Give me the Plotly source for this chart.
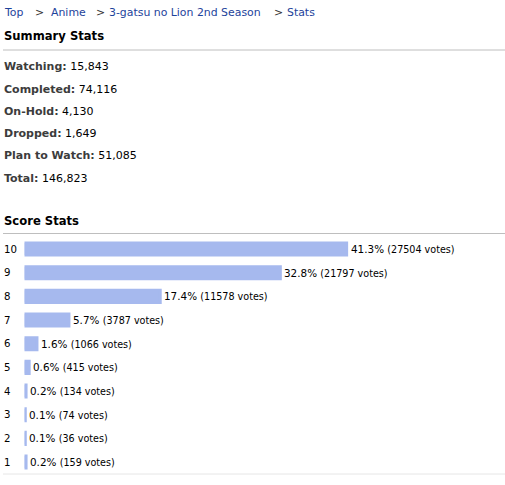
import plotly.graph_objects as go

W, H = 505, 485

# ---------------- data ----------------
crumbs = ["Top", "Anime", "3-gatsu no Lion 2nd Season", "Stats"]
summary_labels = ["Watching", "Completed", "On-Hold", "Dropped", "Plan to Watch", "Total"]
summary_values = ["15,843", "74,116", "4,130", "1,649", "51,085", "146,823"]
scores = ["10", "9", "8", "7", "6", "5", "4", "3", "2", "1"]
percents = [41.3, 32.8, 17.4, 5.7, 1.6, 0.6, 0.2, 0.1, 0.1, 0.2]
votes = [27504, 21797, 11578, 3787, 1066, 415, 134, 74, 36, 159]

# ---------------- styles ----------------
FONT = "DejaVu Sans, Verdana, sans-serif"
LINK = "#1d439b"
BAR = "#a6b9ee"
PX_PER_PCT = 7.8
LINE_W = 3
PITCH = 23.67


def px(x):
    return x / W


def py(y):
    return 1 - y / H


fig = go.Figure()

fig.add_trace(go.Bar(
    y=list(range(len(scores))), x=percents, orientation="h",
    marker=dict(color=BAR, line=dict(color=BAR, width=LINE_W)),
    hoverinfo="skip", showlegend=False,
))

x0 = 23 + LINE_W / 2
y_top, y_bot = 249 - PITCH / 2, 249 + PITCH * 9 + PITCH / 2
fig.update_layout(
    width=W, height=H,
    margin=dict(l=0, r=0, t=0, b=0),
    paper_bgcolor="white", plot_bgcolor="white",
    bargap=0.49,
    xaxis=dict(domain=[px(x0), 1], range=[0, (W - x0) / PX_PER_PCT],
               visible=False, fixedrange=True),
    yaxis=dict(domain=[py(y_bot), py(y_top)], range=[len(scores) - 0.5, -0.5],
               visible=False, fixedrange=True),
    font=dict(family=FONT, color="#000"),
)

ann = []

# breadcrumb
crumb_x = [3.5, 50.5, 109, 286.5]
sep_x = [35, 95.5, 274]
for t, x in zip(crumbs, crumb_x):
    ann.append(dict(text=t, x=px(x), y=py(12.5), xanchor="left", yanchor="middle",
                    font=dict(size=10.9, color=LINK)))
for x in sep_x:
    ann.append(dict(text=">", x=px(x), y=py(12.5), xanchor="left", yanchor="middle",
                    font=dict(size=10.9, color="#333")))

# headers
for t, y in [("Summary Stats", 36.5), ("Score Stats", 221)]:
    ann.append(dict(text="<b>" + t + "</b>", x=px(3.5), y=py(y), xanchor="left",
                    yanchor="middle", font=dict(size=11.6, color="#000")))

# summary rows
for i, (lab, val) in enumerate(zip(summary_labels, summary_values)):
    y = 66.7 + 22.3 * i
    ann.append(dict(text="<span style='color:#3c3c3c'><b>" + lab + ":</b></span> " + val,
                    x=px(3.5), y=py(y), xanchor="left", yanchor="middle",
                    font=dict(size=11, color="#000")))

# score labels + bar texts
for i, (s, p, v) in enumerate(zip(scores, percents, votes)):
    ann.append(dict(text=s, x=px(3.5), y=i, yref="y", xanchor="left", yanchor="middle",
                    font=dict(size=10.2, color="#000")))
    ann.append(dict(text=f"{p:.1f}% <span style='font-size:9.6px'>({v} votes)</span>",
                    x=p, y=i, xref="x", yref="y", xanchor="left", yanchor="middle",
                    xshift=4, font=dict(size=10.4, color="#000")))

for a in ann:
    a.setdefault("xref", "paper")
    a.setdefault("yref", "paper")
    a["showarrow"] = False
    a["borderpad"] = 0
    a["borderwidth"] = 0
fig.update_layout(annotations=ann)

# separator lines
shapes = [
    dict(type="line", xref="paper", yref="paper", x0=px(3), x1=1, y0=py(50), y1=py(50),
         line=dict(color="#bebebe", width=1)),
    dict(type="line", xref="paper", yref="paper", x0=px(3), x1=1, y0=py(233.5), y1=py(233.5),
         line=dict(color="#bebebe", width=1)),
    dict(type="line", xref="paper", yref="paper", x0=px(3), x1=1, y0=py(474), y1=py(474),
         line=dict(color="#e6e6e6", width=1)),
]
fig.update_layout(shapes=shapes)

fig.write_html("out.html", config={"displayModeBar": False},
               post_script="document.body.style.margin='0';document.body.style.overflow='hidden';")
